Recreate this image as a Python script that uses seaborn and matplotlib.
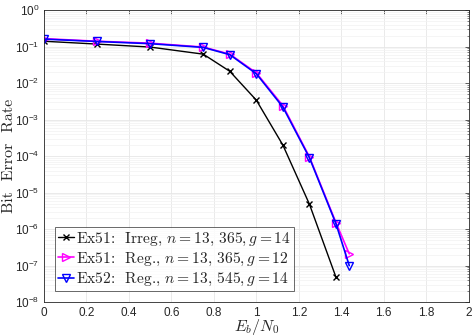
import numpy as np
import pandas as pd
import matplotlib
matplotlib.use("Agg")
import matplotlib.pyplot as plt
import seaborn as sns
from matplotlib.font_manager import FontProperties
from matplotlib.ticker import LogLocator, NullFormatter, FixedLocator

# ---- data ----
ebn0_irreg = [0, 0.25, 0.5, 0.75, 0.875, 1.0, 1.125, 1.25, 1.375]
ber_irreg = [0.14, 0.117, 0.097, 0.062, 0.021, 3.4e-3, 2.0e-4, 4.8e-6, 4.8e-8]

ebn0_reg51 = [0, 0.25, 0.5, 0.75, 0.875, 1.0, 1.125, 1.25, 1.375, 1.4375]
ber_reg51 = [0.165, 0.14, 0.124, 0.097, 0.062, 0.019, 2.4e-3, 9.5e-5, 1.5e-6, 2.1e-7]

ebn0_reg52 = [0, 0.25, 0.5, 0.75, 0.875, 1.0, 1.125, 1.25, 1.375, 1.4375]
ber_reg52 = [0.16, 0.138, 0.12, 0.095, 0.06, 0.018, 2.2e-3, 9.0e-5, 1.4e-6, 1.0e-7]

labels = [r"Ex51:  Irreg, $n=13,\,365,g=14$",
          r"Ex51:  Reg., $n=13,\,365,g=12$",
          r"Ex52:  Reg., $n=13,\,545,g=14$"]
xticks = [0, 0.2, 0.4, 0.6, 0.8, 1, 1.2, 1.4, 1.6, 1.8, 2]
xticklabels = ["0", "0.2", "0.4", "0.6", "0.8", "1", "1.2", "1.4", "1.6", "1.8", "2"]

sns.set_style("white")
plt.rcParams["font.family"] = ["Liberation Sans", "DejaVu Sans"]
plt.rcParams["mathtext.fontset"] = "custom"
plt.rcParams["mathtext.rm"] = "Liberation Sans"
plt.rcParams["mathtext.it"] = "Liberation Sans:italic"

fig = plt.figure(figsize=(4.74, 3.36), dpi=100)
ax = fig.add_axes([0.0928, 0.101, 0.896, 0.869])

sns.lineplot(x=ebn0_irreg, y=ber_irreg, ax=ax, color="black", lw=1.0,
             marker="x", ms=4, mew=1.0, mec="black", label=labels[0], sort=False)
sns.lineplot(x=ebn0_reg51, y=ber_reg51, ax=ax, color="#ff00ff", lw=1.2,
             marker=">", ms=6, mfc="none", mec="#ff00ff", mew=1.0,
             label=labels[1], sort=False)
sns.lineplot(x=ebn0_reg52, y=ber_reg52, ax=ax, color="#0000ff", lw=1.2,
             marker="v", ms=6, mfc="none", mec="#0000ff", mew=1.0,
             label=labels[2], sort=False)

ax.set_yscale("log")
ax.set_xlim(0, 2)
ax.set_ylim(1e-8, 1)
ax.xaxis.set_major_locator(FixedLocator(xticks))
ax.set_xticklabels(xticklabels)
ax.yaxis.set_major_locator(LogLocator(base=10, numticks=20))
ax.yaxis.set_minor_locator(LogLocator(base=10, subs=np.arange(2, 10), numticks=100))
ax.yaxis.set_minor_formatter(NullFormatter())

ax.grid(True, which="major", color="#e6e6e6", lw=0.6)
ax.grid(True, which="minor", axis="y", color="#f2f2f2", lw=0.5)
ax.tick_params(which="both", direction="in", top=True, right=True,
               labelsize=8.5, labelcolor="#262626", color="#262626")
ax.tick_params(which="major", length=3, width=0.5)
ax.tick_params(which="minor", length=1.5, width=0.4)
for s in ax.spines.values():
    s.set_color("#262626")
    s.set_linewidth(0.6)

ax.set_xlabel(r"$E_b/N_0$", fontsize=11.5, math_fontfamily="cm")
ax.xaxis.set_label_coords(0.5, -0.05)
ax.set_ylabel("Bit  Error  Rate", fontsize=11.5, family="cmr10")
ax.yaxis.set_label_coords(-0.066, 0.5)

prop = FontProperties(family="cmr10", size=11.2, math_fontfamily="cm")
leg = ax.legend(loc="lower left", prop=prop, frameon=True, fancybox=False,
                handlelength=1.0, handletextpad=0.15, borderpad=0.2,
                labelspacing=0.2, borderaxespad=0.7)
leg.get_frame().set_edgecolor("#262626")
leg.get_frame().set_linewidth(0.6)

fig.savefig("out.png", dpi=100)
